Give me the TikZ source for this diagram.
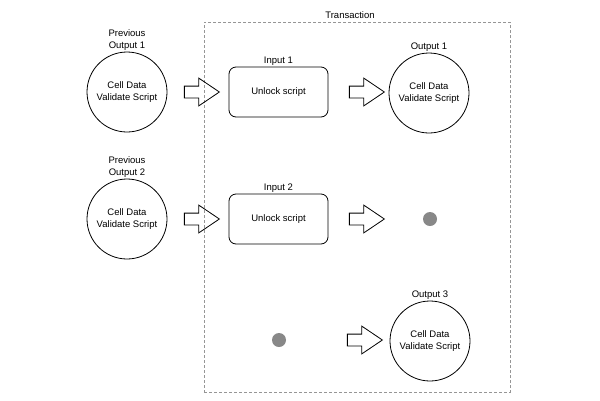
\documentclass[tikz,border=0pt]{standalone}
\usepackage{fontspec}
\setmainfont{Liberation Sans}
\usetikzlibrary{shapes.arrows, positioning}
\definecolor{dotgray}{RGB}{136,136,136}
\definecolor{boxgray}{RGB}{150,150,150}
\tikzstyle{cell} = [circle, draw=black, line width=0.8pt, minimum size=80pt, inner sep=0pt, align=center, font=\fontsize{9.5}{12.5}\selectfont]
\tikzstyle{script} = [rectangle, rounded corners=7pt, draw=black, line width=0.8pt, minimum width=99pt, minimum height=50pt, font=\fontsize{9.5}{12}\selectfont]
\tikzstyle{blockarrow} = [single arrow, draw=black, line width=0.8pt, minimum height=35pt, inner xsep=0pt, inner ysep=5.5pt, single arrow head extend=8pt, single arrow tip angle=68, shape border rotate=0]
\tikzstyle{tag} = [align=center, inner sep=1pt, font=\fontsize{9.5}{11.5}\selectfont]
\tikzstyle{dot} = [circle, fill=dotgray, minimum size=14pt, inner sep=0pt]

\begin{document}
\begin{tikzpicture}[x=1pt, y=-1pt]
    \useasboundingbox (0,0) rectangle (600,400);
    % Transaction box
    \node (tx) [draw=boxgray, dash pattern=on 3pt off 2pt, line width=0.7pt, minimum width=306pt, minimum height=370pt, inner sep=0pt] at (357,207) {};
    \node (txlabel) [tag, above=2pt of tx.north, xshift=-7pt] {Transaction};

    % Row 1
    \node (prev1) [cell] at (127,92) {Cell Data\\Validate Script};
    \node [tag, above=0pt of prev1] {Previous\\Output 1};
    \node (arr1) [blockarrow] at (197.5,92) {};
    \node (in1) [script] at (278.5,92) {Unlock script};
    \node [tag, above=0pt of in1] {Input 1};
    \node (arr2) [blockarrow] at (362.5,92) {};
    \node (out1) [cell] at (429,93) {Cell Data\\Validate Script};
    \node [tag, above=0pt of out1] {Output 1};

    % Row 2
    \node (prev2) [cell] at (127,219) {Cell Data\\Validate Script};
    \node [tag, above=0pt of prev2] {Previous\\Output 2};
    \node (arr3) [blockarrow] at (197.5,219) {};
    \node (in2) [script] at (278.5,219) {Unlock script};
    \node [tag, above=0pt of in2] {Input 2};
    \node (arr4) [blockarrow] at (362.5,219) {};
    \node (dot2) [dot] at (430,219) {};

    % Row 3
    \node (dot3) [dot] at (279,340) {};
    \node (arr5) [blockarrow] at (360.5,340) {};
    \node (out3) [cell] at (430,341) {Cell Data\\Validate Script};
    \node [tag, above=0pt of out3] {Output 3};
\end{tikzpicture}
\end{document}
